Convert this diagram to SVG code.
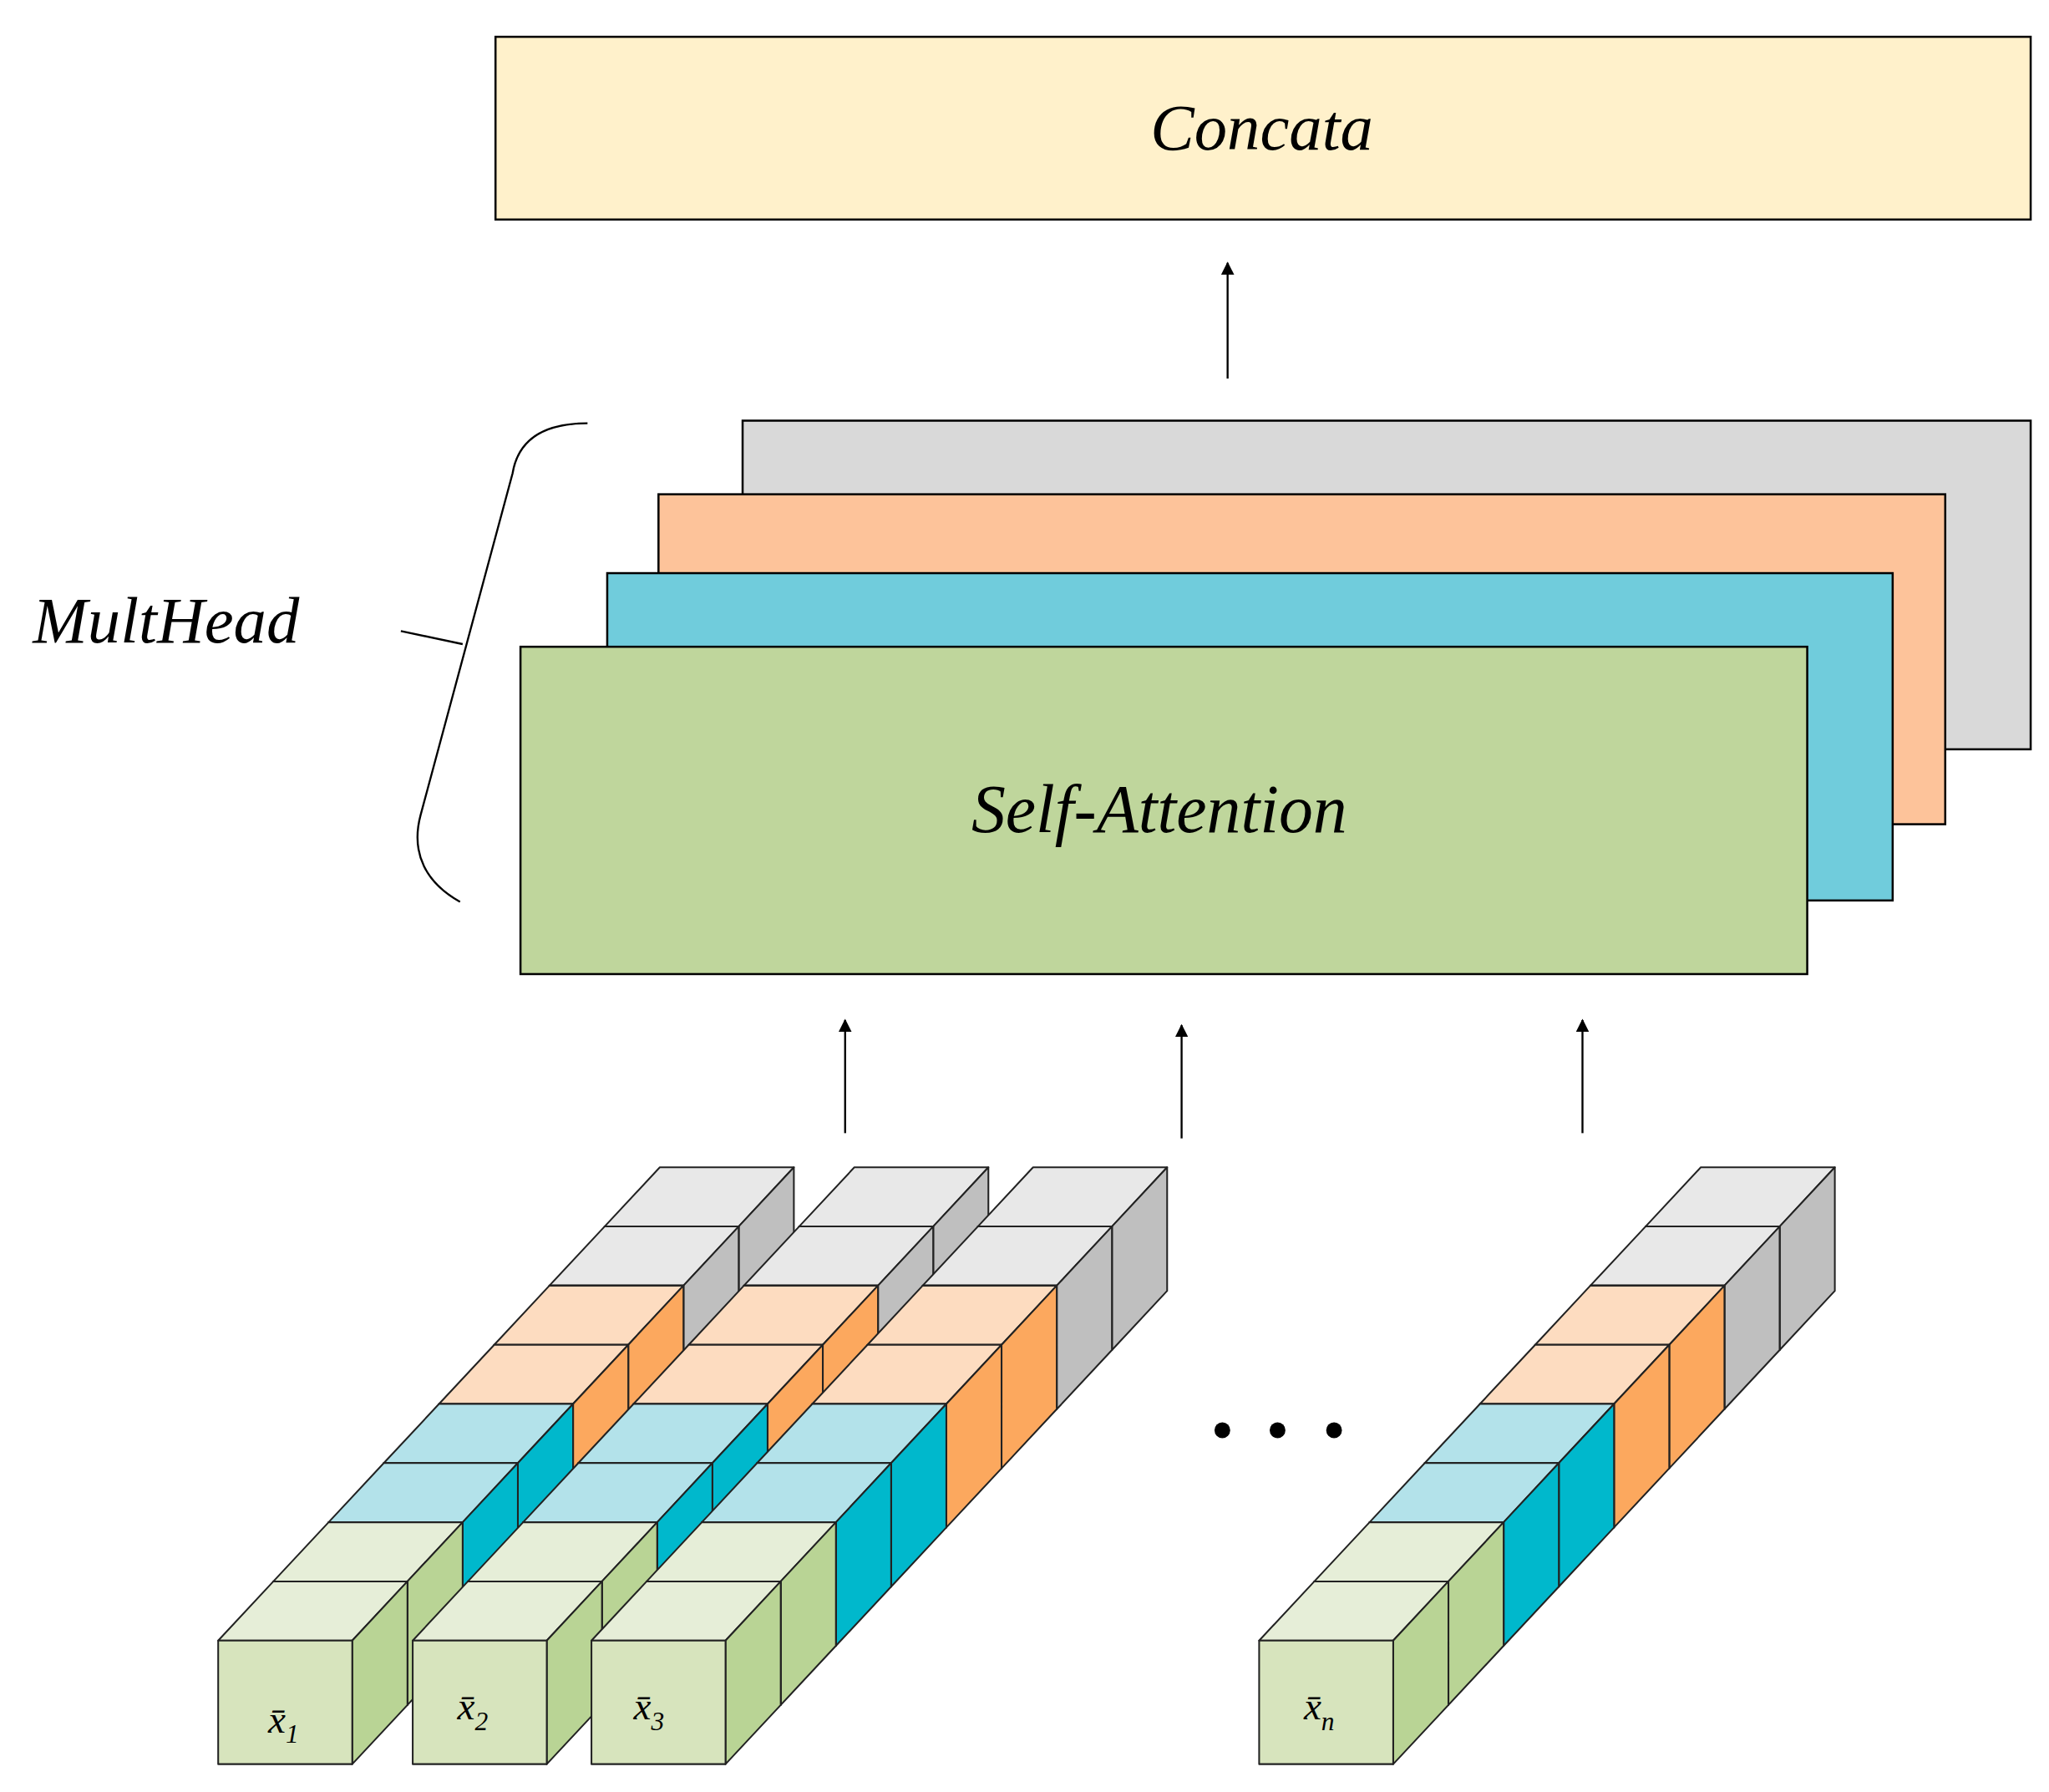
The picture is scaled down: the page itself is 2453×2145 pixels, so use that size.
<svg xmlns="http://www.w3.org/2000/svg" width="2453" height="2145" viewBox="0 0 2453 2145">
<style>
.bx{stroke:#000;stroke-width:1.6}
.lbl{font-family:"Liberation Serif",serif;font-style:italic;fill:#000}
.c{stroke:#222;stroke-width:1.3;stroke-linejoin:round}
.ln{stroke:#000;stroke-width:1.5;fill:none}
</style>
<defs>
<marker id="ah" viewBox="0 0 10 10" refX="9" refY="5" markerWidth="10" markerHeight="10" markerUnits="userSpaceOnUse" orient="auto"><path d="M0,0L10,5L0,10z" fill="#000"/></marker>
<g id="cg"><path class="c" fill="#e6eed8" d="M0,0h102l42,-45h-102z"/><path class="c" fill="#b9d495" d="M102,0l42,-45v94l-42,45z"/><rect class="c" fill="#d7e4bd" width="102" height="94"/></g>
<g id="cb"><path class="c" fill="#b3e2ea" d="M0,0h102l42,-45h-102z"/><path class="c" fill="#00b8cc" d="M102,0l42,-45v94l-42,45z"/><rect class="c" fill="#b3e2ea" width="102" height="94"/></g>
<g id="co"><path class="c" fill="#fddcc0" d="M0,0h102l42,-45h-102z"/><path class="c" fill="#fca85e" d="M102,0l42,-45v94l-42,45z"/><rect class="c" fill="#fddcc0" width="102" height="94"/></g>
<g id="cy"><path class="c" fill="#e8e8e8" d="M0,0h102l42,-45h-102z"/><path class="c" fill="#bfbfbf" d="M102,0l42,-45v94l-42,45z"/><rect class="c" fill="#e8e8e8" width="102" height="94"/></g>
</defs>
<rect width="2453" height="2145" fill="#fff"/>
<g transform="scale(1.5735)">
<g id="concata"><rect class="bx" x="377" y="28" width="1168" height="139" fill="#fff1cb"/><text class="lbl" x="960" y="114" font-size="50" text-anchor="middle">Concata</text></g>
<g id="heads">
<rect class="bx" x="565" y="320" width="980" height="250" fill="#d9d9d9"/>
<rect class="bx" x="501" y="376" width="979" height="251" fill="#fdc39a"/>
<rect class="bx" x="462" y="436" width="978" height="249" fill="#70ccdc"/>
</g>
<g id="selfattention"><rect class="bx" x="396" y="492" width="979" height="249" fill="#bfd69c"/><text class="lbl" x="882" y="633" font-size="52" text-anchor="middle">Self-Attention</text></g>
<g id="multhead"><path class="ln" stroke-width="1.3" d="M447,322C420,322 395,330 390,360L320,620C312,650 325,672 350,686"/><path class="ln" stroke-width="1.3" d="M305,480L352,490"/><text class="lbl" x="25" y="489" font-size="50">MultHead</text></g>
<g id="connectors">
<line class="ln" x1="934" y1="288" x2="934" y2="200" marker-end="url(#ah)"/>
<line class="ln" x1="643" y1="862" x2="643" y2="776" marker-end="url(#ah)"/>
<line class="ln" x1="899" y1="866" x2="899" y2="780" marker-end="url(#ah)"/>
<line class="ln" x1="1204" y1="862" x2="1204" y2="776" marker-end="url(#ah)"/>
</g>
<g id="cubes">
<use href="#cy" x="460" y="933"/><use href="#cy" x="608" y="933"/><use href="#cy" x="744" y="933"/><use href="#cy" x="1252" y="933"/>
<use href="#cy" x="418" y="978"/><use href="#cy" x="566" y="978"/><use href="#cy" x="702" y="978"/><use href="#cy" x="1210" y="978"/>
<use href="#co" x="376" y="1023"/><use href="#co" x="524" y="1023"/><use href="#co" x="660" y="1023"/><use href="#co" x="1168" y="1023"/>
<use href="#co" x="334" y="1068"/><use href="#co" x="482" y="1068"/><use href="#co" x="618" y="1068"/><use href="#co" x="1126" y="1068"/>
<use href="#cb" x="292" y="1113"/><use href="#cb" x="440" y="1113"/><use href="#cb" x="576" y="1113"/><use href="#cb" x="1084" y="1113"/>
<use href="#cb" x="250" y="1158"/><use href="#cb" x="398" y="1158"/><use href="#cb" x="534" y="1158"/><use href="#cb" x="1042" y="1158"/>
<use href="#cg" x="208" y="1203"/><use href="#cg" x="356" y="1203"/><use href="#cg" x="492" y="1203"/><use href="#cg" x="1000" y="1203"/>
<use href="#cg" x="166" y="1248"/><use href="#cg" x="314" y="1248"/><use href="#cg" x="450" y="1248"/><use href="#cg" x="958" y="1248"/>
</g>
<g id="labels" class="lbl" font-size="30">
<text x="204" y="1318">x̄<tspan font-size="20" dy="8">1</tspan></text>
<text x="348" y="1308">x̄<tspan font-size="20" dy="8">2</tspan></text>
<text x="482" y="1308">x̄<tspan font-size="20" dy="8">3</tspan></text>
<text x="992" y="1308">x̄<tspan font-size="20" dy="8">n</tspan></text>
</g>
<g id="dots" fill="#000"><circle cx="930" cy="1088" r="6"/><circle cx="972" cy="1088" r="6"/><circle cx="1015" cy="1088" r="6"/></g>
</g>
</svg>
